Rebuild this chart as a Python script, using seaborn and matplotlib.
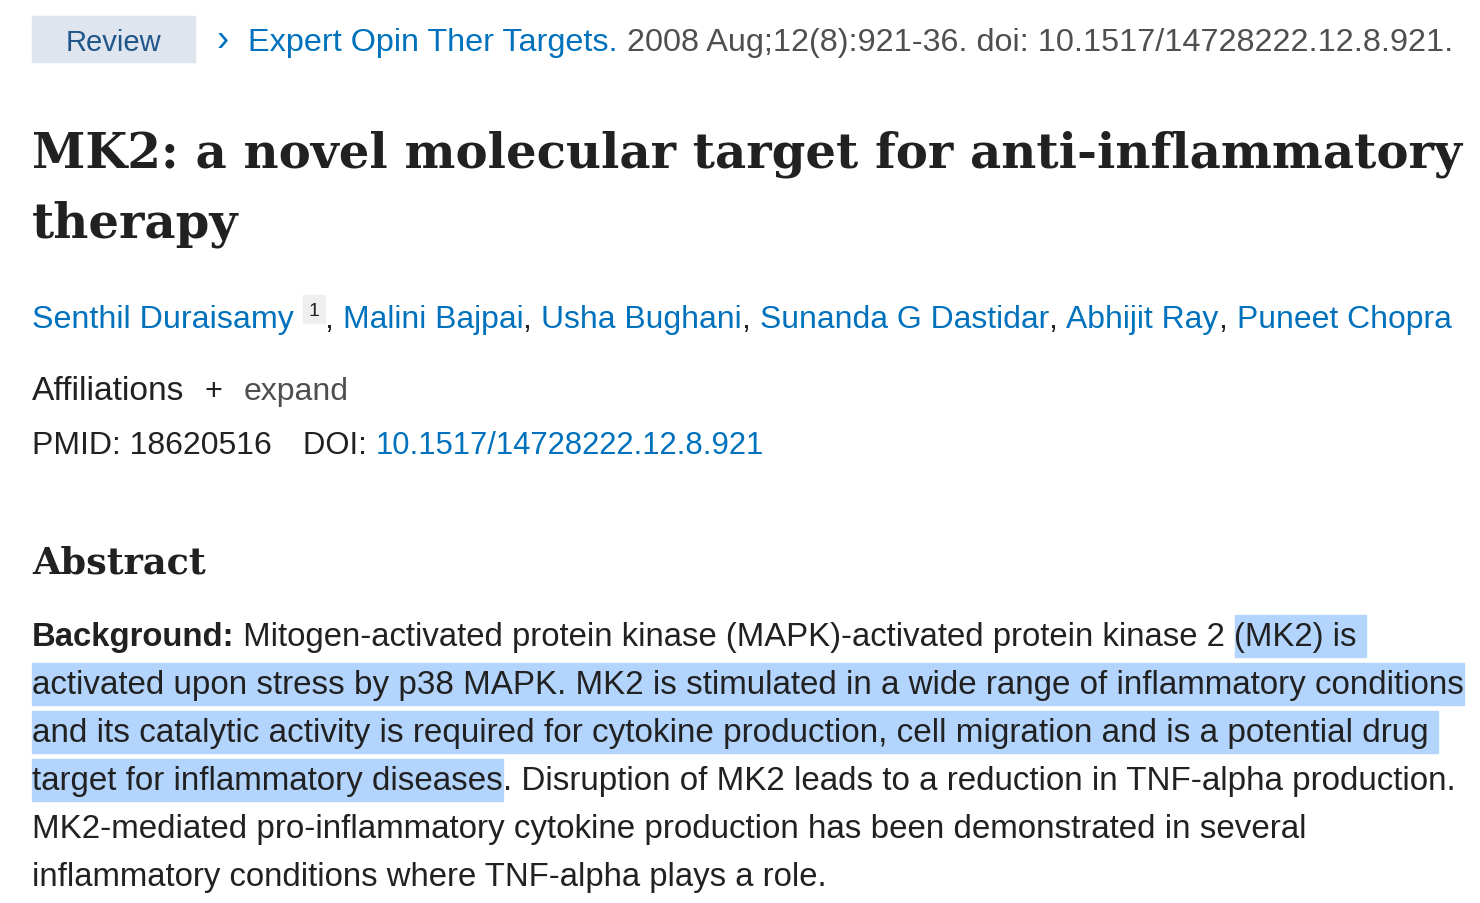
import matplotlib
matplotlib.use("Agg")
import matplotlib.pyplot as plt
from matplotlib.patches import Rectangle
import seaborn as sns

sns.set_style("white")

W, H = 1480, 904
BLUE = "#0071bc"; BLACK = "#212121"; GREY = "#4f4f4f"; HL = "#b3d4fc"
SANS = ["Liberation Sans", "DejaVu Sans"]
SERIF = ["DejaVu Serif"]

header_segments = [("Expert Opin Ther Targets.", BLUE), (" 2008 Aug;12(8):921-36. doi: 10.1517/14728222.12.8.921.", GREY)]
title_lines = ["MK2: a novel molecular target for anti-inflammatory", "therapy"]
authors = ["Senthil Duraisamy", "Malini Bajpai", "Usha Bughani", "Sunanda G Dastidar", "Abhijit Ray", "Puneet Chopra"]
pmid = "18620516"
doi = "10.1517/14728222.12.8.921"
body_lines = [
    [("Background:", "bold", False), (" Mitogen-activated protein kinase (MAPK)-activated protein kinase 2 ", "normal", False), ("(MK2) is ", "normal", True)],
    [("activated upon stress by p38 MAPK. MK2 is stimulated in a wide range of inflammatory conditions", "normal", True)],
    [("and its catalytic activity is required for cytokine production, cell migration and is a potential drug ", "normal", True)],
    [("target for inflammatory diseases", "normal", True), (". Disruption of MK2 leads to a reduction in TNF-alpha production.", "normal", False)],
    [("MK2-mediated pro-inflammatory cytokine production has been demonstrated in several", "normal", False)],
    [("inflammatory conditions where TNF-alpha plays a role.", "normal", False)],
]
body_ends = [1368, 1466, 1441, 1454, 1310, 825]

fig = plt.figure(figsize=(W/100, H/100), dpi=100)
fig.patch.set_facecolor("white")
R = fig.canvas.get_renderer()

def fx(x): return x / W
def fy(y): return 1 - y / H

def line(segs, x0, yb, size, family, target=None):
    # segs: list of (text, color, weight, highlight)
    def measure(sz):
        ws = []
        for t, c, w, h in segs:
            tt = fig.text(0, 0, t, fontsize=sz, family=family, weight=w)
            ws.append(tt.get_window_extent(R).width)
            tt.remove()
        return ws
    if target is not None:
        ws = measure(size)
        size = size * (target - x0) / sum(ws)
    ws = measure(size)
    x = x0
    for (t, c, w, h), wd in zip(segs, ws):
        if h:
            fig.patches.append(Rectangle((fx(x), fy(yb + 12)), wd / W, 42 / H,
                                         transform=fig.transFigure, color=HL, zorder=0))
        fig.text(fx(x), fy(yb), t, fontsize=size, family=family, weight=w, color=c, va="baseline", zorder=2)
        x += wd
    return size

# Header
fig.patches.append(Rectangle((fx(32), fy(63)), 163 / W, 46 / H, transform=fig.transFigure, color="#dfe5ee", zorder=0))
fig.text(fx(113), fy(51), "Review", fontsize=21, family=SANS, color="#20558a", ha="center", va="baseline")
fig.text(fx(216), fy(51), "›", fontsize=26, family=SANS, color=BLUE, va="baseline")
line([(t, c, "normal", False) for t, c in header_segments], 248, 51, 21, SANS, target=1449)

# Title
ts = line([(title_lines[0], BLACK, "bold", False)], 32, 168, 40, SERIF, target=1460)
line([(title_lines[1], BLACK, "bold", False)], 32, 238, ts, SERIF)

# Authors
segs = [(authors[0], BLUE, "normal", False)]
auth_rest = []
for a in authors[1:]:
    auth_rest += [(", ", BLACK, "normal", False), (a, BLUE, "normal", False)]
line(segs, 32, 328, 21, SANS, target=293)
fig.patches.append(Rectangle((fx(303), fy(324)), 22 / W, 28 / H, transform=fig.transFigure, color="#efefef", zorder=0))
fig.text(fx(314), fy(316), "1", fontsize=14, family=SANS, color=BLACK, ha="center", va="baseline")
line(auth_rest, 325, 328, 21, SANS, target=1450)

# Affiliations
line([("Affiliations", BLACK, "normal", False)], 32, 400, 21, SANS, target=184)
fig.text(fx(204), fy(400), "+", fontsize=22, family=SANS, color=BLACK, va="baseline")
line([("expand", GREY, "normal", False)], 244, 400, 21, SANS, target=349)

# PMID / DOI
line([("PMID: " + pmid, BLACK, "normal", False)], 32, 454, 21, SANS, target=272)
line([("DOI: ", BLACK, "normal", False), (doi, BLUE, "normal", False)], 303, 454, 21, SANS, target=762)

# Abstract
line([("Abstract", BLACK, "bold", False)], 32, 574, 28, SERIF, target=206)

# Body
for i, (bl, end) in enumerate(zip(body_lines, body_ends)):
    line([(t, BLACK, w, h) for t, w, h in bl], 32, 646 + 48 * i, 21, SANS, target=end)

fig.savefig("out.png", dpi=100, facecolor="white")
